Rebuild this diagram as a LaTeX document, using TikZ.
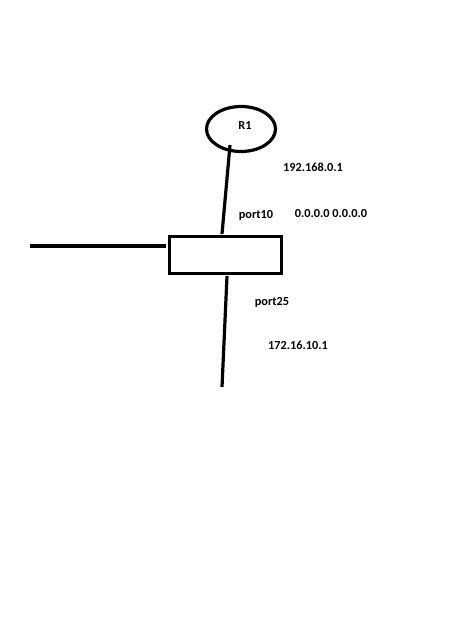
\documentclass[tikz,border=0pt]{standalone}
\usepackage{fontspec}
\setmainfont{Carlito}
\usetikzlibrary{shapes.geometric}
\begin{document}
\begin{tikzpicture}[x=1pt,y=-1pt,
  wire/.style={line width=3.2pt},
  lbl/.style={font=\bfseries\fontsize{12.3}{14}\selectfont, inner sep=0pt, anchor=center}]
\useasboundingbox[fill=white] (0,0) rectangle (474,620);
\node[ellipse, draw, line width=3.2pt, minimum width=69pt, minimum height=45pt, inner sep=0pt] (r1) at (241,129) {};
\node[lbl] (r1t) at (245,126) {R1};
\node[rectangle, draw, line width=3.2pt, minimum width=112pt, minimum height=37pt, inner sep=0pt] (sw) at (225.5,255) {};
\coordinate (a) at (230,145);
\coordinate (b) at (222,234);
\coordinate (c) at (30,246);
\coordinate (d) at (166,246);
\coordinate (e) at (227,276);
\coordinate (f) at (222,387);
\draw[wire] (a) -- (b);
\draw[wire] (c) -- (d);
\draw[wire] (e) -- (f);
\node[lbl] (ip1) at (313,167) {192.168.0.1};
\node[lbl] (p10) at (256,215) {port10};
\node[lbl] (mask) at (331,214) {0.0.0.0 0.0.0.0};
\node[lbl] (p25) at (272,302) {port25};
\node[lbl] (ip2) at (298,345) {172.16.10.1};
\end{tikzpicture}
\end{document}
